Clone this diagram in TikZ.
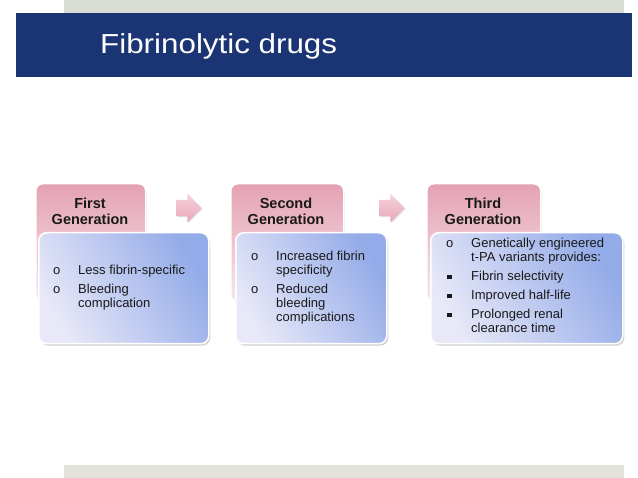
\documentclass[tikz,border=0pt]{standalone}
\usepackage{fontspec}
\setmainfont{Liberation Sans}
\usetikzlibrary{shapes.arrows,shadows}
\definecolor{band}{HTML}{1B3574}
\definecolor{graytop}{HTML}{DADDD4}
\definecolor{graybot}{HTML}{E3E3DC}
\definecolor{pinktop}{HTML}{E4A2B3}
\definecolor{pinkbot}{HTML}{F8E6EB}
\definecolor{bluelight}{HTML}{E8E8F8}
\definecolor{bluedark}{HTML}{93ABE8}
\definecolor{arrowlight}{HTML}{F6D3DC}
\definecolor{arrowdark}{HTML}{E8A6B7}
\newcommand{\obul}{\makebox[25pt][l]{o}}
\newcommand{\sbul}{\makebox[25pt][l]{\hspace{1pt}\rule[1.5pt]{4.5pt}{4.5pt}}}
\tikzset{
  genbox/.style={draw=white, line width=1.5pt, rounded corners=7pt, anchor=north west,
    top color=pinktop, bottom color=pinkbot,
    drop shadow={shadow xshift=1pt, shadow yshift=-1.5pt, opacity=0.3}},
  itembox/.style={draw=white, line width=1.5pt, rounded corners=8pt, anchor=north west,
    left color=bluelight, right color=bluedark, shading angle=120,
    drop shadow={shadow xshift=1.5pt, shadow yshift=-2pt, opacity=0.35}},
  gentitle/.style={font=\fontsize{14.5}{16}\selectfont\bfseries, align=center, inner sep=0pt, text=black!90},
  itemtext/.style={font=\fontsize{13}{14}\selectfont, inner sep=0pt, anchor=base west, text=black!90},
  flowarrow/.style={single arrow, single arrow head extend=6pt, minimum height=25pt,
    inner sep=0pt, top color=arrowlight, bottom color=arrowdark, draw=none,
    drop shadow={shadow xshift=1pt, shadow yshift=-1pt, opacity=0.25}}
}
\begin{document}
\begin{tikzpicture}[x=1pt,y=-1pt]
\useasboundingbox (0,0) rectangle (638,478);
\fill[white] (0,0) rectangle (638,478);
\fill[graytop] (64,0) rectangle (624,14);
\fill[band] (16,13) rectangle (632,77);
\node[anchor=base west, text=white, font=\fontsize{27.5}{30}\selectfont, inner sep=0pt] (title) at (100,54) {\scalebox{1.14}[1]{Fibrinolytic drugs}};
\fill[graybot] (64,465) rectangle (624,478);

% first
\node[genbox, minimum width=110pt, minimum height=118pt] (g1) at (35,183) {};
\node[gentitle] (t1) at (90,211) {First\\Generation};
\node[itembox, minimum width=170pt, minimum height=111pt] (b1) at (38,232) {};
\node[itemtext] (l1) at (53,275) {\begin{tabular}[t]{@{}l@{}l@{}}\obul & Less fibrin-specific\\[5pt]
 \obul & Bleeding\\ & complication\end{tabular}};

% second
\node[genbox, minimum width=113pt, minimum height=118pt] (g2) at (230,183) {};
\node[gentitle] (t2) at (286,211) {Second\\Generation};
\node[itembox, minimum width=151pt, minimum height=111pt] (b2) at (235,232) {};
\node[itemtext] (l2) at (251,261) {\begin{tabular}[t]{@{}l@{}l@{}}\obul & Increased fibrin\\ & specificity\\[5pt]
 \obul & Reduced\\ & bleeding\\ & complications\end{tabular}};

% third
\node[genbox, minimum width=114pt, minimum height=118pt] (g3) at (426,183) {};
\node[gentitle] (t3) at (483,211) {Third\\Generation};
\node[itembox, minimum width=192pt, minimum height=111pt] (b3) at (430,232) {};
\node[itemtext] (l3) at (446,248) {\begin{tabular}[t]{@{}l@{}l@{}}\obul & Genetically engineered\\ & t-PA variants provides:\\[5pt]
 \sbul & Fibrin selectivity\\[5pt]
 \sbul & Improved half-life\\[5pt]
 \sbul & Prolonged renal\\ & clearance time\end{tabular}};

\node[flowarrow] (a1) at (185,208) {\rule{0pt}{16pt}};
\node[flowarrow] (a2) at (388,208) {\rule{0pt}{16pt}};
\end{tikzpicture}
\end{document}
